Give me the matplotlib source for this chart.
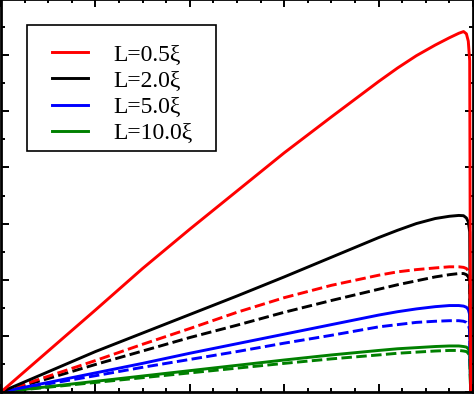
import matplotlib
matplotlib.use('Agg')
import matplotlib.pyplot as plt
from matplotlib.patches import Rectangle
from matplotlib.ticker import MultipleLocator

plt.rcParams['font.family'] = ['Liberation Serif', 'DejaVu Serif']

# data
x = [0, 0.5, 1, 1.5, 2, 2.5, 3, 3.5, 4, 4.2, 4.4, 4.6, 4.75, 4.85, 4.9, 4.93, 4.95, 4.965, 4.975]

labels = ['L=0.5ξ', 'L=2.0ξ', 'L=5.0ξ', 'L=10.0ξ']
colors = ['#ff0000', '#000000', '#0000ff', '#008000']

# solid curves
red_solid = [0, 0.73, 1.46, 2.2, 2.9, 3.58, 4.26, 4.9, 5.53, 5.77, 5.99, 6.18, 6.31, 6.39, 6.42, 6.38, 6.25, 5.9, 0]
black_solid = [0, 0.36, 0.72, 1.05, 1.38, 1.71, 2.05, 2.4, 2.75, 2.88, 3.0, 3.09, 3.13, 3.145, 3.14, 3.1, 3.03, 2.85, 0]
blue_solid = [0, 0.17, 0.34, 0.51, 0.69, 0.86, 1.03, 1.2, 1.37, 1.43, 1.48, 1.52, 1.54, 1.54, 1.53, 1.51, 1.47, 1.38, 0]
green_solid = [0, 0.095, 0.19, 0.285, 0.38, 0.475, 0.57, 0.66, 0.74, 0.77, 0.79, 0.81, 0.82, 0.82, 0.81, 0.8, 0.77, 0.7, 0]
# dashed curves
red_dashed = [0, 0.28, 0.56, 0.85, 1.13, 1.42, 1.68, 1.9, 2.08, 2.14, 2.18, 2.21, 2.23, 2.23, 2.22, 2.2, 2.16, 2.08, 0]
black_dashed = [0, 0.24, 0.49, 0.73, 0.97, 1.19, 1.42, 1.63, 1.83, 1.91, 1.98, 2.05, 2.09, 2.11, 2.11, 2.09, 2.05, 1.97, 0]
blue_dashed = [0, 0.145, 0.29, 0.44, 0.58, 0.72, 0.87, 1.01, 1.16, 1.2, 1.24, 1.26, 1.27, 1.27, 1.26, 1.24, 1.2, 1.1, 0]
green_dashed = [0, 0.085, 0.17, 0.255, 0.34, 0.425, 0.51, 0.59, 0.66, 0.69, 0.71, 0.73, 0.74, 0.74, 0.73, 0.72, 0.69, 0.63, 0]

solid = [red_solid, black_solid, blue_solid, green_solid]
dashed = [red_dashed, black_dashed, blue_dashed, green_dashed]

fig = plt.figure(figsize=(4.74, 3.94), dpi=100)
ax = fig.add_axes([1 / 474, 2 / 394, 472 / 474, 393 / 394])

# dashed first, solid on top, red solid last
for ys, c in zip(dashed[::-1], colors[::-1]):
    ax.plot(x, ys, color=c, lw=2.1, dashes=(3.6, 1.5))
for ys, c, lab in zip(solid[::-1], colors[::-1], labels[::-1]):
    ax.plot(x, ys, color=c, lw=2.1, label=lab)

ax.set_xlim(0, 5)
ax.set_ylim(0, 7)
ax.xaxis.set_major_locator(MultipleLocator(1))
ax.xaxis.set_minor_locator(MultipleLocator(0.25))
ax.yaxis.set_major_locator(MultipleLocator(1))
ax.yaxis.set_minor_locator(MultipleLocator(0.5))
ax.tick_params(which='both', direction='in', top=True, right=True,
               labelbottom=False, labelleft=False, width=1.4)
ax.tick_params(which='major', length=5.5)
ax.tick_params(which='minor', length=3)
for s in ax.spines.values():
    s.set_linewidth(2)

# legend (frame drawn separately)
h, l = ax.get_legend_handles_labels()
leg = ax.legend(h[::-1], l[::-1], loc='center left', bbox_to_anchor=(0.108, 0.758),
                frameon=False, borderpad=0, borderaxespad=0, fontsize=17,
                handlelength=1.53, handletextpad=1.06, labelspacing=0.2)
ax.add_patch(Rectangle((0.0551, 0.6132), 0.4004, 0.3206, transform=ax.transAxes,
                       fill=False, edgecolor='black', lw=1.2, zorder=5))

fig.savefig('out.png', dpi=100)
